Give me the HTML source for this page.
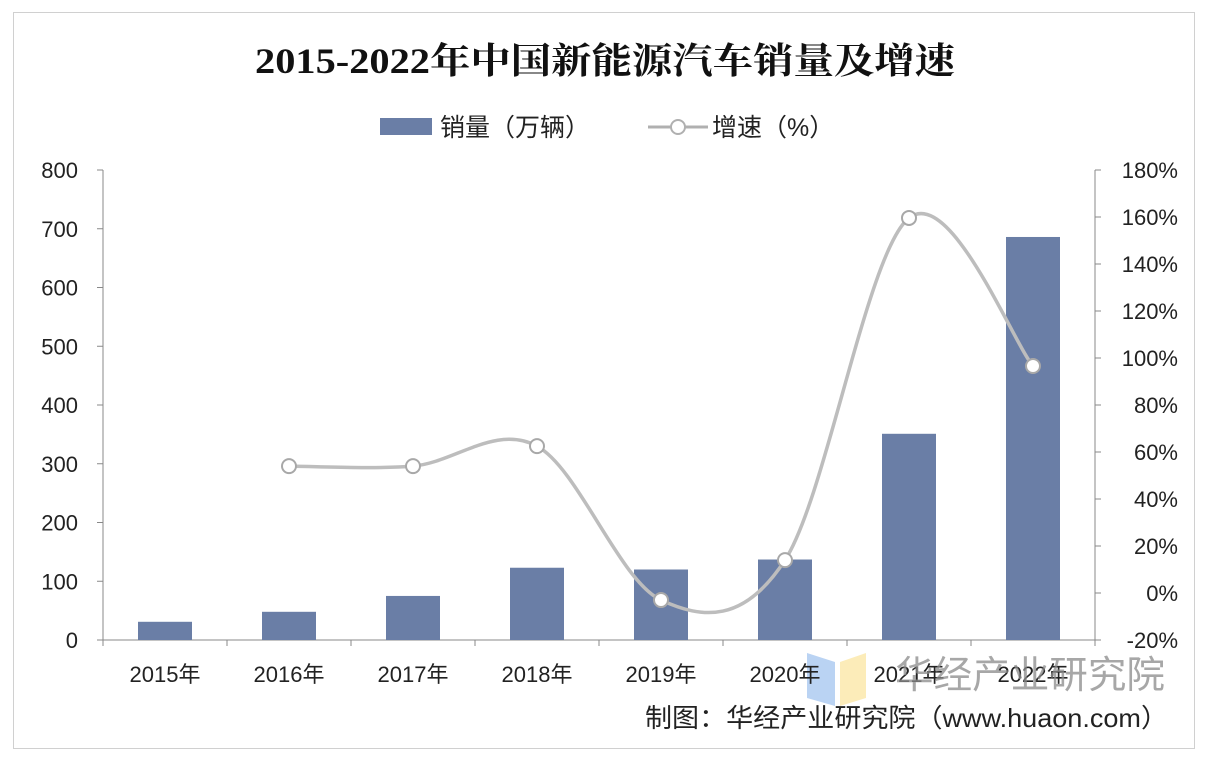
<!DOCTYPE html>
<html><head><meta charset="utf-8">
<style>
html,body{margin:0;padding:0;background:#fff;}
body{width:1208px;height:762px;overflow:hidden;font-family:"Liberation Sans","Noto Sans CJK SC",sans-serif;}
</style></head>
<body>
<svg id="chart" width="1208" height="762" xmlns="http://www.w3.org/2000/svg" font-family="Liberation Sans, Noto Sans CJK SC, sans-serif">
<rect x="13.5" y="12.5" width="1181" height="736" fill="#fff" stroke="#d0d0d0"/>
<text x="255" y="73" textLength="700" lengthAdjust="spacingAndGlyphs" font-size="36" font-weight="bold" font-family="Liberation Serif, Noto Serif CJK SC, serif" fill="#111">2015-2022年中国新能源汽车销量及增速</text>
<g>
<rect x="380" y="118" width="52" height="17" fill="#6a7ea6"/>
<text x="440" y="136" font-size="25" fill="#222">销量（万辆）</text>
<line x1="648" y1="127" x2="708" y2="127" stroke="#b0b0b0" stroke-width="3"/>
<circle cx="678" cy="127" r="7" fill="#fff" stroke="#b0b0b0" stroke-width="2"/>
<text x="712" y="136" font-size="25" fill="#222">增速（%）</text>
</g>
<g>
<polygon points="807,653 835,662 835,706 807,698" fill="#a9c8f0" opacity="0.8"/>
<polygon points="840,662 866,653 866,698 840,706" fill="#fbe7a8" opacity="0.8"/>
</g>
<g id="axes"></g>
<g id="bars"></g>
<g id="line"></g>
<text x="895" y="688" textLength="270" lengthAdjust="spacingAndGlyphs" font-size="38" fill="#8a8a8a" opacity="0.75">华经产业研究院</text>
<text x="645" y="727" textLength="523" lengthAdjust="spacingAndGlyphs" font-size="26" fill="#222">制图：华经产业研究院（www.huaon.com）</text>
</svg>
<script>
const categories=["2015年","2016年","2017年","2018年","2019年","2020年","2021年","2022年"];
const sales=[31,48,75,123,120,137,351,686];
const growth=[null,54,54,62.5,-3,14,159.6,96.6];
const leftTicks=[0,100,200,300,400,500,600,700,800];
const rightTicks=[-20,0,20,40,60,80,100,120,140,160,180];
const NS="http://www.w3.org/2000/svg";
const X0=103,X1=1095,Y0=640,Y1=170;
const band=(X1-X0)/categories.length;
const xC=i=>X0+band*(i+0.5);
const yL=v=>Y0-(v-0)/(800-0)*(Y0-Y1);
const yR=v=>Y0-(v+20)/200*(Y0-Y1);
function mk(tag,attrs,parent){const e=document.createElementNS(NS,tag);for(const k in attrs)e.setAttribute(k,attrs[k]);parent.appendChild(e);return e;}
const ax=document.getElementById('axes');
let l=mk('line',{x1:X0,y1:Y1,x2:X0,y2:Y0,stroke:'#888'},ax);


l=mk('line',{x1:X1,y1:Y1,x2:X1,y2:Y0,stroke:'#888'},ax);


l=mk('line',{x1:X0,y1:Y0,x2:X1,y2:Y0,stroke:'#888'},ax);


leftTicks.forEach(v=>{const y=yL(v);mk('line',{x1:X0-6,y1:y,x2:X0,y2:y,stroke:'#888'},ax);
const t=mk('text',{x:78,y:y+8,'text-anchor':'end','font-size':22,fill:'#222'},ax);t.textContent=v;

});
rightTicks.forEach(v=>{const y=yR(v);mk('line',{x1:X1,y1:y,x2:X1+6,y2:y,stroke:'#888'},ax);
const t=mk('text',{x:1178,y:y+8,'text-anchor':'end','font-size':22,fill:'#222'},ax);t.textContent=v+'%';

});
for(let i=0;i<=categories.length;i++){mk('line',{x1:X0+band*i,y1:Y0,x2:X0+band*i,y2:Y0+6,stroke:'#888'},ax);}
categories.forEach((c,i)=>{const t=mk('text',{x:xC(i),y:682,'text-anchor':'middle','font-size':22,fill:'#222'},ax);t.textContent=c;

});
const bg=document.getElementById('bars');
sales.forEach((v,i)=>{const b=mk('rect',{x:xC(i)-27,y:yL(v),width:54,height:Y0-yL(v),fill:'#6a7ea6'},bg);

});
const lg=document.getElementById('line');
const pts=[];growth.forEach((v,i)=>{if(v!==null)pts.push([xC(i),yR(v)]);});
let d='M'+pts[0][0]+','+pts[0][1];
for(let i=0;i<pts.length-1;i++){const p0=pts[Math.max(0,i-1)],p1=pts[i],p2=pts[i+1],p3=pts[Math.min(pts.length-1,i+2)];
const c1=[p1[0]+(p2[0]-p0[0])/6,p1[1]+(p2[1]-p0[1])/6],c2=[p2[0]-(p3[0]-p1[0])/6,p2[1]-(p3[1]-p1[1])/6];
d+=' C'+c1+' '+c2+' '+p2;}
const path=mk('path',{d:d,fill:'none',stroke:'#bdbdbd','stroke-width':3.5},lg);


growth.forEach((v,i)=>{if(v===null)return;const c=mk('circle',{cx:xC(i),cy:yR(v),r:7,fill:'#fff',stroke:'#a8a8a8','stroke-width':2},lg);

});
</script>
</body></html>
